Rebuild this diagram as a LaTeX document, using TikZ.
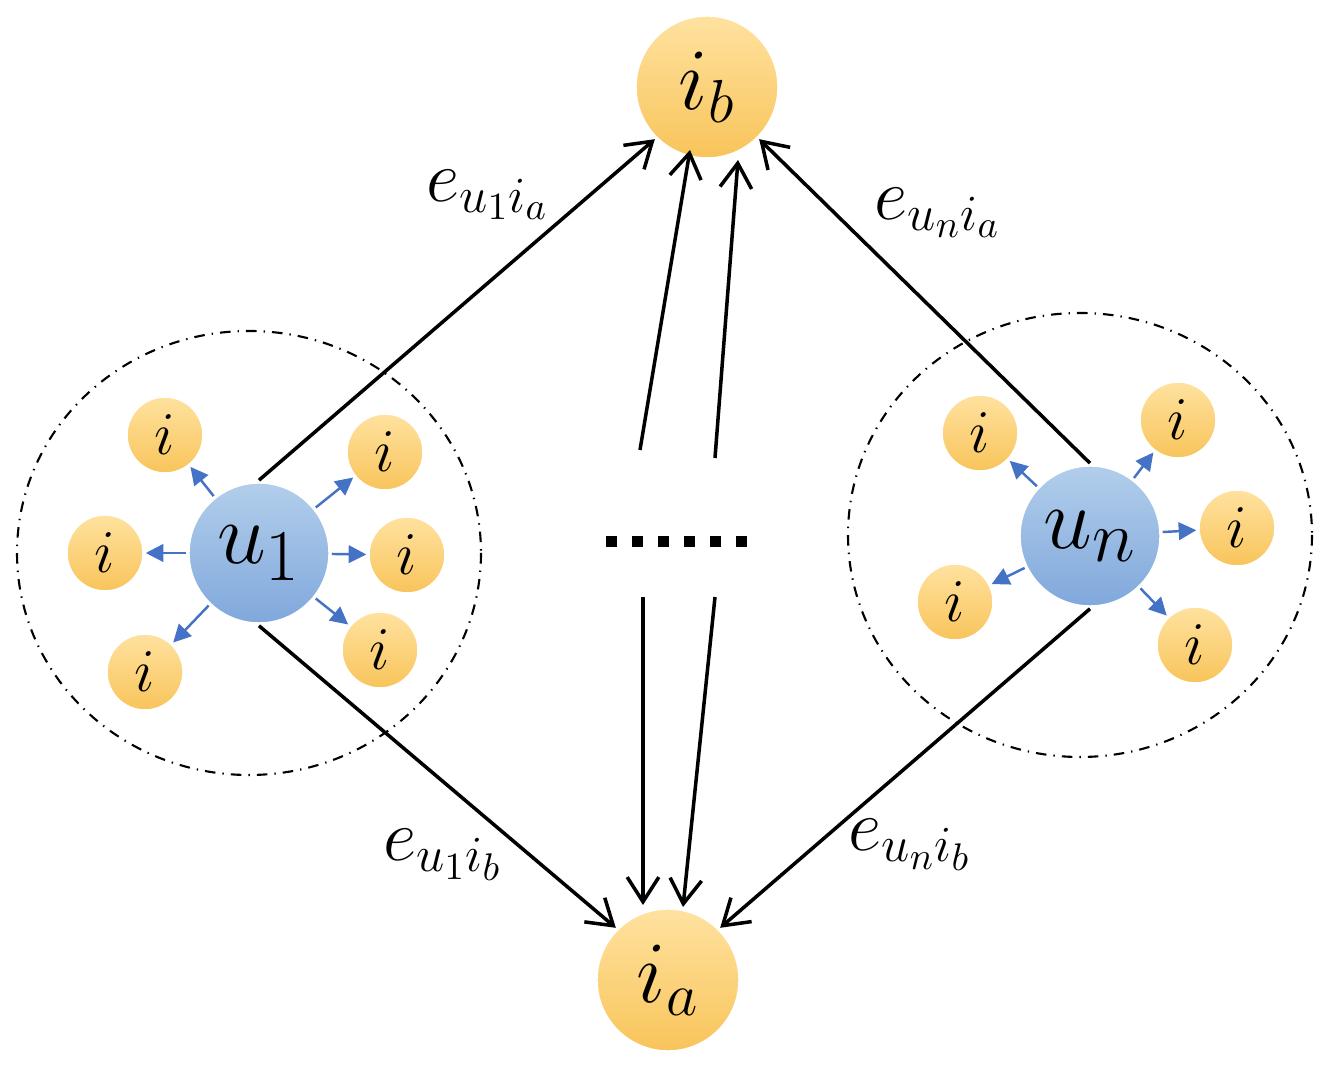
\documentclass[tikz,border=0pt]{standalone}
\usepackage{amsmath}
\usetikzlibrary{arrows.meta}
\definecolor{otop}{RGB}{255,226,160}
\definecolor{obot}{RGB}{248,196,90}
\definecolor{btop}{RGB}{178,206,235}
\definecolor{bbot}{RGB}{128,168,220}
\begin{document}
\begin{tikzpicture}[x=0.01cm,y=-0.01cm,
  onode/.style={circle,draw=white,line width=1pt,top color=otop,bottom color=obot,inner sep=0pt},
  big/.style={onode,minimum size=1.44cm,font=\fontsize{26}{30}\selectfont},
  small/.style={onode,minimum size=0.78cm,font=\fontsize{19}{22}\selectfont},
  unode/.style={circle,draw=white,line width=1pt,top color=btop,bottom color=bbot,minimum size=1.42cm,inner sep=0pt,font=\fontsize{28}{32}\selectfont},
  bar/.style={-{Straight Barb[length=7pt,width=9pt]},line width=1pt,black},
  ba/.style={-{Triangle[length=5pt,width=5pt]},draw={rgb,255:red,68;green,114;blue,196},line width=0.7pt},
  grp/.style={draw,dash dot,line width=0.6pt},
  lab/.style={font=\fontsize{21}{24}\selectfont}]
\useasboundingbox (0,0) rectangle (1327,1068);
\draw[grp] (249,553) ellipse [x radius=232, y radius=222];
\draw[grp] (1080,535) ellipse [x radius=232, y radius=222];
\node[big] (ib) at (707,87) {$i_b$};
\node[big] (ia) at (668,980) {$i_a$};
\node[unode] (u1) at (259,553) {$u_1$};
\node[unode] (un) at (1090,536) {$u_n$};
\foreach \n/\x/\y in {a/165/435,b/385/452,c/105/553,d/407/555,e/145/672,f/380/650}
  {\node[small] (l\n) at (\x,\y) {$i$}; \draw[ba] (u1) -- (l\n);}
\foreach \n/\x/\y in {a/980/433,b/1178/420,c/1237/528,d/955/602,e/1195/645}
  {\node[small] (r\n) at (\x,\y) {$i$}; \draw[ba] (un) -- (r\n);}
\draw[bar] (u1.north) -- (ib.225);
\draw[bar] (u1.south) -- (ia.135);
\draw[bar] (un.north) -- (ib.315);
\draw[bar] (un.south) -- (ia.45);
\coordinate (m1) at (640,450); \coordinate (m2) at (715,458);
\coordinate (m3) at (643,597); \coordinate (m4) at (715,597);
\coordinate (t1) at (690,150); \coordinate (t2) at (738,160);
\coordinate (b1) at (643,905); \coordinate (b2) at (683,907);
\draw[bar] (m1) -- (t1); \draw[bar] (m2) -- (t2);
\draw[bar] (m3) -- (b1); \draw[bar] (m4) -- (b2);
\foreach \k in {0,...,5} \fill (606+26*\k,536) rectangle ++(11,11);
\node[lab] (l1) at (488,195) {$e_{u_1 i_a}$};
\node[lab] (l2) at (938,213) {$e_{u_n i_a}$};
\node[lab] (l3) at (443,855) {$e_{u_1 i_b}$};
\node[lab] (l4) at (910,845) {$e_{u_n i_b}$};
\end{tikzpicture}
\end{document}
